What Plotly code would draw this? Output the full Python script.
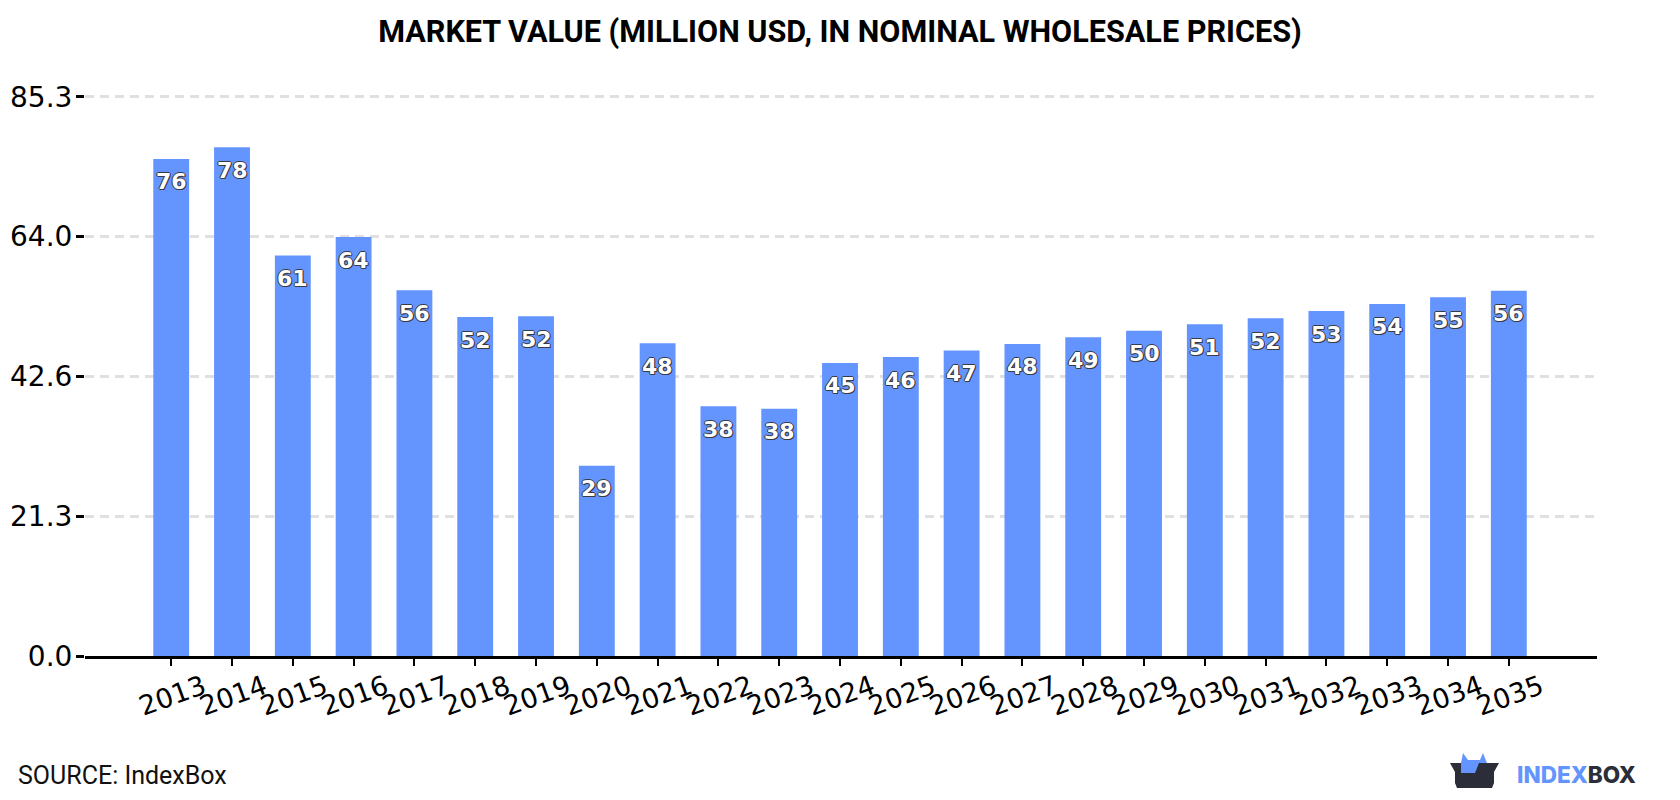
import plotly.graph_objects as go

years = list(range(2013, 2036))
values = [75.8, 77.6, 61.1, 63.9, 55.8, 51.7, 51.8, 29.0, 47.7, 38.1, 37.7, 44.7,
          45.6, 46.6, 47.6, 48.6, 49.6, 50.6, 51.5, 52.6, 53.7, 54.7, 55.7]
y_ticks = [0.0, 21.3, 42.6, 64.0, 85.3]

BLUE = "#6495ff"
DARK = "#2b2d38"
W, H = 1680, 800
L, R, T, B = 85, 83, 93, 144
PW, PH = W - L - R, H - T - B
Y_MAX = 85.3 * PH / 559.3  # small headroom keeps the top gridline inside the plot area
X_MIN = 2013 - 1.418
X_MAX = X_MIN + PW / 60.8


def px(x):
    return (x - L) / PW


def py(y):
    return 1 - (y - T) / PH


def path(points):
    return "M " + " L ".join(f"{px(x):.5f},{py(y):.5f}" for x, y in points) + " Z"


outline = ",".join(f"{a}px {b}px 0 #3a3a45" for a, b in [(-1, 0), (1, 0), (0, -1), (0, 1), (1, 1)])

fig = go.Figure(go.Bar(x=years, y=values, width=0.59, marker_color=BLUE, marker_line_width=0,
                       hoverinfo="x+y"))

# Value labels sit a fixed distance below the top of each bar
annotations = [
    dict(x=yr, y=v, xref="x", yref="y", text=f"{v:.0f}", showarrow=False, yshift=-23,
         font=dict(family="DejaVu Sans", size=22, color="white", weight="bold", shadow=outline))
    for yr, v in zip(years, values)
]
annotations += [
    dict(x=px(16), y=py(775), xref="paper", yref="paper", xanchor="left", yanchor="middle",
         text="SOURCE: IndexBox", showarrow=False,
         font=dict(family="Roboto", size=25, color="#111111")),
    dict(x=px(1515), y=py(774), xref="paper", yref="paper", xanchor="left", yanchor="middle",
         text=f'<span style="color:{BLUE}">INDEX</span><span style="color:{DARK}">BOX</span>',
         showarrow=False, font=dict(family="Inter", size=22.5, weight=800)),
]

# Box-shaped logo mark in the lower right corner
logo = [
    dict(type="path", xref="paper", yref="paper", line_width=0, fillcolor=BLUE, layer="above",
         path=path([(1461, 763), (1463, 753), (1468, 760), (1480, 760), (1483, 753), (1487, 763),
                    (1479, 773), (1461, 773)])),
    dict(type="path", xref="paper", yref="paper", line_width=0, fillcolor=DARK, layer="above",
         path=path([(1450, 763), (1461, 763), (1461, 773), (1475, 773), (1479, 763), (1499, 763),
                    (1494, 772), (1494, 783), (1492, 788), (1457, 788), (1455, 783), (1455, 772)])),
]

fig.update_layout(
    width=W, height=H, autosize=False,
    margin=dict(l=L, r=R, t=T, b=B, pad=0),
    paper_bgcolor="white", plot_bgcolor="white", showlegend=False, bargap=0.41,
    title=dict(text="<b>MARKET VALUE (MILLION USD, IN NOMINAL WHOLESALE PRICES)</b>",
               x=0.5, xref="container", xanchor="center", y=1 - 31 / H, yref="container", yanchor="middle",
               font=dict(family="Roboto", size=30.6, color="black")),
    xaxis=dict(range=[X_MIN, X_MAX], automargin=False, tickmode="array", tickvals=years,
               ticktext=[str(y) for y in years],
               tickangle=-20, ticks="outside", ticklen=7, tickwidth=2, tickcolor="black",
               ticklabelshift=32, ticklabelstandoff=-5,
               tickfont=dict(family="DejaVu Sans", size=27, color="black"),
               showline=True, linecolor="black", linewidth=3, showgrid=False, zeroline=False),
    yaxis=dict(range=[0, Y_MAX], automargin=False, tickmode="array", tickvals=y_ticks,
               ticktext=[f"{t:.1f}" for t in y_ticks],
               ticks="outside", ticklen=8, tickwidth=2.5, tickcolor="black", ticklabelstandoff=-2,
               tickfont=dict(family="DejaVu Sans", size=28, color="black"),
               showline=False, zeroline=False, showgrid=True, gridcolor="#e0e0e0", gridwidth=2.5,
               griddash="9px,6px"),
    annotations=annotations,
    shapes=logo,
)

fig.write_html("out.html")
